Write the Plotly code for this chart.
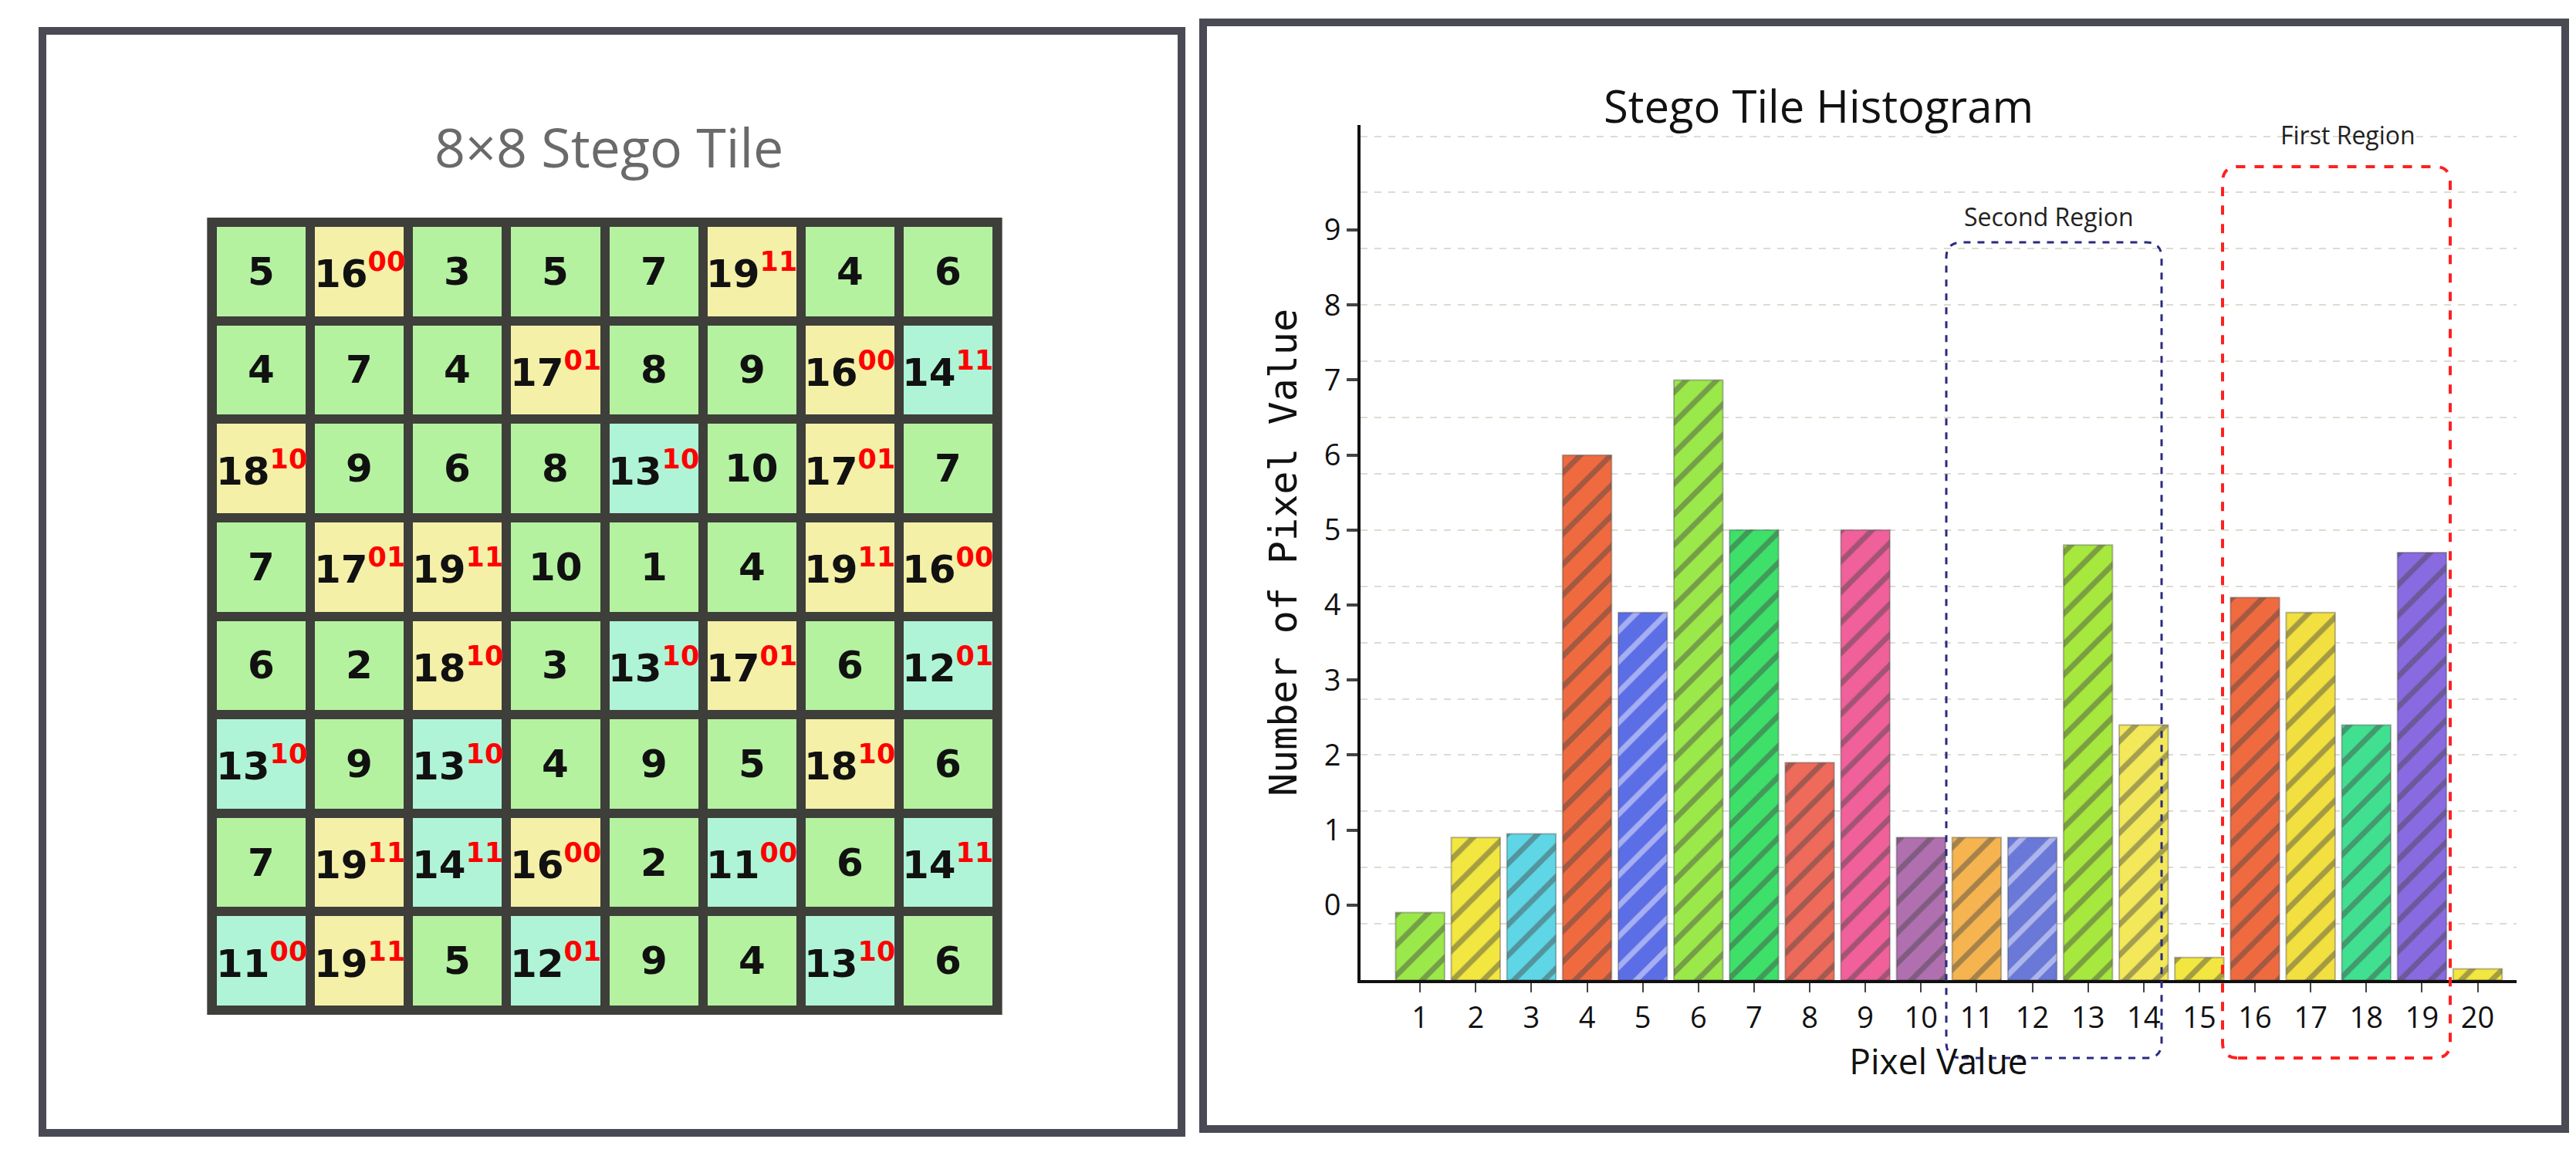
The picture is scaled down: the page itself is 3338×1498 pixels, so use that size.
import plotly.graph_objects as go

# ---------- data ----------
tile_values = [
    [5, 16, 3, 5, 7, 19, 4, 6],
    [4, 7, 4, 17, 8, 9, 16, 14],
    [18, 9, 6, 8, 13, 10, 17, 7],
    [7, 17, 19, 10, 1, 4, 19, 16],
    [6, 2, 18, 3, 13, 17, 6, 12],
    [13, 9, 13, 4, 9, 5, 18, 6],
    [7, 19, 14, 16, 2, 11, 6, 14],
    [11, 19, 5, 12, 9, 4, 13, 6],
]
tile_bits = [
    ["", "00", "", "", "", "11", "", ""],
    ["", "", "", "01", "", "", "00", "11"],
    ["10", "", "", "", "10", "", "01", ""],
    ["", "01", "11", "", "", "", "11", "00"],
    ["", "", "10", "", "10", "01", "", "01"],
    ["10", "", "10", "", "", "", "10", ""],
    ["", "11", "11", "00", "", "00", "", "11"],
    ["00", "11", "", "01", "", "", "10", ""],
]
pixel_values = list(range(1, 21))
# bar heights in axis units (axis tick labelled "0" sits at 1 unit)
bar_heights = [0.9, 1.9, 1.95, 7.0, 4.9, 8.0, 6.0, 2.9, 6.0, 1.9,
               1.9, 1.9, 5.8, 3.4, 0.3, 5.1, 4.9, 3.4, 5.7, 0.15]
bar_colors = ["#9be84a", "#f2e640", "#5fd6e6", "#f06a40", "#5c6ee6",
              "#9be84a", "#3ee06a", "#ee6a5a", "#f0609a", "#b070b0",
              "#f5b450", "#6a78d8", "#a6e83e", "#f2e85a", "#f2e640",
              "#f06a40", "#f2e040", "#40e090", "#8a6ae0", "#f2e640"]
ytick_vals = [1, 2, 3, 4, 5, 6, 7, 8, 9, 10]
ytick_text = ["0", "1", "2", "3", "4", "5", "6", "7", "8", "9"]
grid_vals = [0.75, 1.5, 2.25, 3.0, 3.75, 4.5, 5.25, 6.0, 6.75, 7.5, 8.25, 9.0, 9.75, 10.5, 11.25]

W, H = 3338, 1498
def px(x): return x / W
def py(y): return 1 - y / H

fig = go.Figure()

# ---------- left: tile ----------
def cat(v):
    if v >= 16: return 1
    if 11 <= v <= 14: return 2
    return 0
z = [[cat(v) for v in row] for row in tile_values]
fig.add_trace(go.Heatmap(
    z=z, x=list(range(8)), y=list(range(8)), xaxis="x", yaxis="y",
    zmin=0, zmax=2, showscale=False, hoverinfo="skip", xgap=12, ygap=12,
    colorscale=[[0, "#b4f2a0"], [0.33, "#b4f2a0"], [0.33, "#f4f0a8"],
                [0.66, "#f4f0a8"], [0.66, "#b0f4d8"], [1, "#b0f4d8"]]))
anns = []
for r in range(8):
    for c in range(8):
        v = tile_values[r][c]
        b = tile_bits[r][c]
        t = f"<b>{v}</b>" if not b else f"<b>{v}<sup><span style='color:#ff0000'>{b}</span></sup></b>"
        anns.append(dict(x=c, y=r, xref="x", yref="y", text=t, showarrow=False,
                         font=dict(size=50, color="#111", family="Verdana, DejaVu Sans")))

# ---------- right: histogram ----------
fig.add_trace(go.Bar(
    x=pixel_values, y=bar_heights, xaxis="x2", yaxis="y2", width=0.88,
    marker=dict(color=bar_colors, line=dict(color="rgba(60,60,60,0.35)", width=2),
                pattern=dict(shape="/", fgcolor="#ffffff", fgopacity=0.45, size=28, solidity=0.25)),
    hoverinfo="skip"))

gx0, gx1, gy0, gy1 = px(267), px(1284), py(1301), py(280)
shapes = [
    dict(type="rect", xref="paper", yref="paper", x0=px(47), x1=px(1523), y0=py(1460), y1=py(32),
         line=dict(color="#4a4a55", width=10), fillcolor="white", layer="below"),
    dict(type="rect", xref="paper", yref="paper", x0=px(1551), x1=px(3316), y0=py(1455), y1=py(21),
         line=dict(color="#4a4a55", width=10), fillcolor="white", layer="below"),
    dict(type="rect", xref="paper", yref="paper", x0=gx0 - 0.002, x1=gx1 + 0.002, y0=gy0 - 0.004, y1=gy1 + 0.004,
         line=dict(width=0), fillcolor="#3e3e3a", layer="below"),
]

def rounded(x0, y0, x1, y1, r=0.006):
    ry = r * W / H
    return (f"M{x0+r},{y0} L{x1-r},{y0} Q{x1},{y0} {x1},{y0+ry} L{x1},{y1-ry} Q{x1},{y1} {x1-r},{y1} "
            f"L{x0+r},{y1} Q{x0},{y1} {x0},{y1-ry} L{x0},{y0+ry} Q{x0},{y0} {x0+r},{y0} Z")
shapes.append(dict(type="path", xref="paper", yref="paper",
                   path=rounded(px(2514), py(1363), px(2793), py(306)),
                   line=dict(color="#2a2a80", width=3, dash="dash")))
shapes.append(dict(type="path", xref="paper", yref="paper",
                   path=rounded(px(2872), py(1363), px(3167), py(208)),
                   line=dict(color="#ff2020", width=4, dash="dash")))

anns += [
    dict(x=px(781), y=py(182), xref="paper", yref="paper", text="8×8 Stego Tile", showarrow=False,
         xanchor="center", yanchor="middle", font=dict(size=70, color="#6a6a6a", family="Open Sans")),
    dict(x=px(2348), y=py(128), xref="paper", yref="paper", text="Stego Tile Histogram", showarrow=False,
         xanchor="center", yanchor="middle", font=dict(size=58, color="#111", family="Open Sans")),
    dict(x=px(2647), y=py(296), xref="paper", yref="paper", text="Second Region", showarrow=False,
         xanchor="center", yanchor="bottom", font=dict(size=32, color="#222", family="Open Sans")),
    dict(x=px(3034), y=py(190), xref="paper", yref="paper", text="First Region", showarrow=False,
         xanchor="center", yanchor="bottom", font=dict(size=32, color="#222", family="Open Sans")),
]

fig.update_layout(
    width=W, height=H, margin=dict(l=0, r=0, t=0, b=0),
    paper_bgcolor="white", plot_bgcolor="rgba(0,0,0,0)", showlegend=False,
    shapes=shapes, annotations=anns, bargap=0.1,
    xaxis=dict(domain=[gx0, gx1], range=[-0.5, 7.5], visible=False),
    yaxis=dict(domain=[gy0, gy1], range=[7.5, -0.5], visible=False),
    xaxis2=dict(domain=[px(1755), px(3253)], anchor="y2", range=[-0.07, 20.7],
                tickvals=pixel_values, ticks="outside", ticklen=12, tickwidth=2,
                showline=True, linecolor="#111", linewidth=4, showgrid=False, zeroline=False,
                tickfont=dict(size=38, color="#111", family="Open Sans"),
                title=dict(text="Pixel Value", font=dict(size=46, color="#111", family="Open Sans"), standoff=4)),
    yaxis2=dict(domain=[py(1262), py(154)], anchor="x2", range=[0, 11.4],
                tickvals=ytick_vals, ticktext=ytick_text, ticks="outside", ticklen=14, tickwidth=4,
                showline=True, linecolor="#111", linewidth=4, showgrid=False, zeroline=False,
                tickfont=dict(size=38, color="#111", family="Open Sans"),
                minor=dict(tickvals=grid_vals, showgrid=True, gridcolor="#dcdcd0", griddash="dash", gridwidth=2, ticks=""),
                title=dict(text="Number of Pixel Value",
                           font=dict(size=50, color="#111", family="DejaVu Sans Mono"), standoff=20)),
)

fig.write_html("out.html")
